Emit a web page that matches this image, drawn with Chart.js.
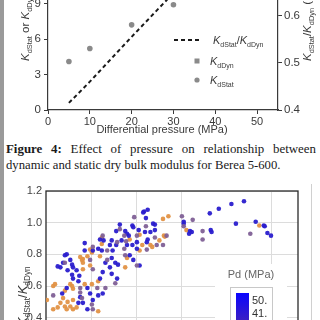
<!DOCTYPE html>
<html>
<head>
<meta charset="utf-8">
<script src="https://cdn.jsdelivr.net/npm/chart.js@4"></script>
<style>
  body { margin: 0; width: 320px; height: 320px; overflow: hidden; position: relative; background: #fff; }
  canvas { position: absolute; left: 0; }
  .cap { position: absolute; left: 6px; width: 310px; font-family: "Liberation Serif", "Times New Roman", serif; font-size: 12.7px; color: #1a1a1a; white-space: nowrap; }
</style>
</head>
<body>
<canvas id="topChart" width="320" height="160" style="top:-20px"></canvas>
<div class="cap" style="top:142px; font-size:12.9px; text-align:justify; text-align-last:justify; white-space:normal;"><b>Figure 4:</b> Effect of pressure on relationship between</div>
<div class="cap" style="top:158px;">dynamic and static dry bulk modulus for Berea 5-600.</div>
<canvas id="bottomChart" width="320" height="180" style="top:180px"></canvas>
<div style="position:absolute; left:0; top:0; width:4px; height:320px; background:#9a9a9a;"></div>
<div style="position:absolute; left:311px; top:184px; width:1px; height:136px; background:#d0d0d0;"></div>
<script>
// ---- top chart data (Berea 5-600) ----
const pressure = [5, 10, 20, 30];
const kdStat = [4.1, 5.2, 7.2, 8.9];
const kdDyn = [9.9, 11.3, 13.0, 13.7];
const kRatio = [0.415, 0.46, 0.555, 0.648];
const pressureTicks = [0, 10, 20, 30, 40, 50];
const modulusTicks = [0, 3, 6, 9];
const ratioTicksTop = [0.4, 0.5, 0.6];

// ---- bottom chart data, grouped by Pd ----
const ratioTicks = [0.2, 0.4, 0.6, 0.8, 1.0, 1.2];
const gridX = [0.05, 0.1, 0.15, 0.25];
const pdLabels = ['50.', '41.'];

const highPd = [
  [0.220,1.135],[0.206,1.118],[0.192,1.088],[0.182,1.059],[0.153,1.006],[0.153,0.994],[0.211,0.994],[0.233,1.006],
  [0.242,0.982],[0.243,0.977],[0.246,0.935],[0.250,0.918],[0.160,0.947],[0.162,0.941],[0.159,0.930],[0.183,0.953],
  [0.184,0.941],[0.113,1.082],[0.109,1.071],[0.111,1.029],[0.119,0.994],[0.121,0.988],[0.082,0.988],[0.096,0.982],
  [0.097,0.971],[0.103,0.953],[0.078,0.947],[0.088,0.947],[0.090,0.930],[0.092,0.918],[0.110,0.941],[0.116,0.941],
  [0.121,0.953],[0.113,0.894],[0.112,0.877],[0.084,0.888],[0.090,0.859],[0.096,0.859],[0.101,0.877],[0.073,0.888],
  [0.078,0.859],[0.060,0.894],[0.064,0.888],[0.071,0.859],[0.058,0.835],[0.062,0.824],[0.074,0.824],[0.043,0.871],
  [0.043,0.824],[0.052,0.824],[0.101,0.835],[0.108,1.065],[0.021,0.794],[0.027,0.765],[0.016,0.718],[0.029,0.735],
  [0.030,0.718],[0.024,0.700],[0.034,0.700],[0.029,0.671],[0.030,0.647],[0.037,0.665],[0.036,0.630],[0.023,0.588],
  [0.018,0.553],[0.046,0.588],[0.060,0.647],[0.063,0.688],[0.071,0.718],[0.077,0.747],[0.080,0.735],[0.073,0.777],
  [0.066,0.747],[0.073,0.677],[0.079,0.647],[0.093,0.794],[0.097,0.765],[0.104,0.730],[0.063,0.553],[0.058,0.541],
  [0.049,0.553],[0.038,0.530],[0.041,0.494],[0.036,0.494],[0.046,0.453],[0.052,0.512],[0.019,0.747],[0.013,0.724],
  [0.023,0.800]
];
const midPd = [
  [0.151,1.041],[0.163,1.018],[0.153,0.977],[0.227,0.930],[0.174,0.947],[0.174,0.894],[0.130,0.859],[0.098,1.035],
  [0.111,0.977],[0.082,0.959],[0.087,0.918],[0.101,0.918],[0.121,0.906],[0.089,0.882],[0.123,0.859],[0.079,0.877],
  [0.087,0.835],[0.063,0.918],[0.052,0.847],[0.068,0.824],[0.112,0.830],[0.134,0.918],[0.021,0.747],[0.049,0.765],
  [0.052,0.706],[0.038,0.588],[0.057,0.588],[0.068,0.765],[0.077,0.618],[0.088,0.794],[0.101,0.730],[0.066,0.588],
  [0.040,0.524],[0.051,0.483],[0.008,0.541],[0.052,0.453],[0.038,0.559]
];
const lowPd = [
  [0.136,1.041],[0.237,0.982],[0.156,0.953],[0.131,0.918],[0.132,0.912],[0.104,0.924],[0.126,0.888],[0.116,0.859],
  [0.107,0.859],[0.093,0.894],[0.062,0.906],[0.062,0.865],[0.051,0.812],[0.104,0.824],[0.118,0.847],[0.130,1.024],
  [0.040,0.765],[0.041,0.747],[0.046,0.788],[0.049,0.730],[0.041,0.706],[0.027,0.612],[0.029,0.600],[0.030,0.583],
  [0.010,0.612],[0.021,0.571],[0.043,0.612],[0.051,0.612],[0.058,0.630],[0.060,0.788],[0.090,0.777],[0.088,0.718],
  [0.030,0.512],[0.019,0.524],[0.024,0.500],[0.016,0.494],[0.021,0.471],[0.027,0.471],[0.013,0.465],[0.023,0.453],
  [0.030,0.453],[0.034,0.465],[0.001,0.512],[0.058,0.441],[0.008,0.600],[0.038,0.783],[0.041,0.771],[0.049,0.830],
  [0.008,0.453]
];

const SANS = '"Liberation Sans", Arial, sans-serif';
const AXIS = '#3a3a3a';

// draws text with subscripts, optionally rotated
function richText(ctx, x, y, parts, size, rot) {
  ctx.save();
  ctx.translate(x, y);
  if (rot) ctx.rotate(rot);
  ctx.textAlign = 'left';
  ctx.textBaseline = 'alphabetic';
  let cx = 0;
  parts.forEach(p => {
    const s = Math.round((p.sub ? size * 0.64 : size) * 10) / 10;
    ctx.font = (p.it ? 'italic ' : '') + s + 'px ' + SANS;
    ctx.fillText(p.t, cx, p.sub ? size * 0.25 : 0);
    cx += ctx.measureText(p.t).width;
  });
  ctx.restore();
}

const kStat = [{t: 'K', it: true}, {t: 'dStat', sub: true}];
const kDyn = [{t: 'K', it: true}, {t: 'dDyn', sub: true}];
const kRatioText = [...kStat, {t: '/'}, ...kDyn];

const pts = (xs, ys) => xs.map((x, i) => ({x: x, y: ys[i]}));
const pairs = arr => arr.map(p => ({x: p[0], y: p[1]}));

// ---- top chart ----
const topDecor = {
  id: 'topDecor',
  afterDraw(chart) {
    const ctx = chart.ctx;
    const off = 20; // canvas sits 20px above the page
    ctx.save();
    ctx.fillStyle = AXIS;
    richText(ctx, 29, 61 + off, [...kStat, {t: ' or '}, ...kDyn, {t: ' (GPa)'}], 11.5, -Math.PI / 2);
    richText(ctx, 311, 61 + off, [...kRatioText, {t: ' (Fraction)'}], 11.5, -Math.PI / 2);
    ctx.font = '11px ' + SANS;
    ctx.textAlign = 'center';
    ctx.textBaseline = 'middle';
    ctx.fillText('Differential pressure (MPa)', 162, 130 + off);

    // legend
    ctx.strokeStyle = '#1a1a1a';
    ctx.lineWidth = 2;
    ctx.setLineDash([4, 3]);
    ctx.beginPath();
    ctx.moveTo(174, 40 + off);
    ctx.lineTo(201, 40 + off);
    ctx.stroke();
    ctx.setLineDash([]);
    richText(ctx, 213, 44 + off, kRatioText, 11);
    ctx.fillStyle = '#8a8a8a';
    ctx.fillRect(194.5, 58.5 + off, 5, 5);
    ctx.beginPath();
    ctx.arc(197, 80 + off, 2.6, 0, Math.PI * 2);
    ctx.fill();
    ctx.fillStyle = AXIS;
    richText(ctx, 210, 65 + off, kDyn, 11);
    richText(ctx, 210, 84 + off, kStat, 11);
    ctx.restore();
  }
};

new Chart(document.getElementById('topChart'), {
  type: 'scatter',
  data: {
    datasets: [
      {
        label: 'KdStat/KdDyn',
        data: pts(pressure, kRatio),
        yAxisID: 'y2',
        showLine: true,
        borderColor: '#1a1a1a',
        borderWidth: 2,
        borderDash: [4, 3],
        pointRadius: 0
      },
      {
        label: 'KdDyn',
        data: pts(pressure, kdDyn),
        pointStyle: 'rect',
        pointRadius: 3,
        backgroundColor: '#8a8a8a',
        borderWidth: 0
      },
      {
        label: 'KdStat',
        data: pts(pressure, kdStat),
        pointRadius: 2.8,
        backgroundColor: '#8a8a8a',
        borderWidth: 0
      }
    ]
  },
  options: {
    responsive: false,
    animation: false,
    devicePixelRatio: 1,
    layout: { padding: { top: 20, left: 0, right: 0, bottom: 0 } },
    plugins: { legend: { display: false }, tooltip: { enabled: false } },
    scales: {
      x: {
        type: 'linear',
        min: 0, max: 55,
        afterBuildTicks: s => { s.ticks = pressureTicks.map(v => ({value: v})); },
        afterFit: s => { s.height = 30; },
        grid: { drawOnChartArea: false, tickLength: 4, color: AXIS },
        border: { color: AXIS, width: 1.2 },
        ticks: { padding: 1, color: AXIS, font: { family: SANS, size: 11 } }
      },
      y: {
        min: 0, max: 9.3,
        afterBuildTicks: s => { s.ticks = modulusTicks.map(v => ({value: v})); },
        afterFit: s => { s.width = 48; },
        grid: { drawOnChartArea: false, tickLength: 4, color: AXIS },
        border: { color: AXIS, width: 1.2 },
        ticks: { padding: 3, color: AXIS, font: { family: SANS, size: 11.5 } }
      },
      y2: {
        position: 'right',
        min: 0.4, max: 0.633,
        afterBuildTicks: s => { s.ticks = ratioTicksTop.map(v => ({value: v})); },
        afterFit: s => { s.width = 42; },
        grid: { drawOnChartArea: false, tickLength: 4, color: AXIS },
        border: { color: AXIS, width: 1.2 },
        ticks: { padding: 2, color: AXIS, font: { family: SANS, size: 11.5 }, callback: v => v.toFixed(1) }
      }
    }
  },
  plugins: [topDecor]
});

// ---- bottom chart ----
const bottomDecor = {
  id: 'bottomDecor',
  beforeDatasetsDraw(chart) {
    const a = chart.chartArea;
    const ctx = chart.ctx;
    ctx.save();
    ctx.strokeStyle = '#2a2a2a';
    ctx.lineWidth = 1.3;
    ctx.strokeRect(a.left, a.top, a.right - a.left, a.bottom - a.top + 20);
    ctx.restore();
  },
  afterDatasetsDraw(chart) {
    const ctx = chart.ctx;
    ctx.save();
    // Pd legend panel
    ctx.fillStyle = '#fff';
    ctx.fillRect(215, 84, 72, 100);
    ctx.fillStyle = '#666';
    ctx.font = '11px ' + SANS;
    ctx.textAlign = 'center';
    ctx.textBaseline = 'middle';
    ctx.fillText('Pd (MPa)', 251, 95);
    ctx.strokeStyle = '#c8c8c8';
    ctx.lineWidth = 1;
    ctx.strokeRect(230.5, 107.5, 42, 80);
    const g = ctx.createLinearGradient(0, 113, 0, 140);
    g.addColorStop(0, '#0a05ff');
    g.addColorStop(1, '#3a1fc4');
    ctx.fillStyle = g;
    ctx.fillRect(236, 113, 13, 70);
    ctx.fillStyle = '#333';
    ctx.textAlign = 'left';
    pdLabels.forEach((t, i) => ctx.fillText(t, 252, 121 + i * 13));
    // y title
    ctx.fillStyle = AXIS;
    richText(ctx, 27, 146, kRatioText, 13, -Math.PI / 2);
    ctx.restore();
  }
};

const dot = (data, color) => ({
  data: pairs(data),
  backgroundColor: color,
  borderWidth: 0,
  pointRadius: 2.3
});

new Chart(document.getElementById('bottomChart'), {
  type: 'scatter',
  data: {
    datasets: [
      dot(midPd, 'rgba(128,96,150,0.95)'),
      dot(highPd, 'rgba(42,30,206,0.95)'),
      dot(lowPd, 'rgba(226,146,70,0.95)')
    ]
  },
  options: {
    responsive: false,
    animation: false,
    devicePixelRatio: 1,
    layout: { padding: { top: 11, left: 0, right: 22, bottom: 0 } },
    plugins: { legend: { display: false }, tooltip: { enabled: false } },
    scales: {
      x: {
        type: 'linear',
        min: 0, max: 0.28,
        afterBuildTicks: s => { s.ticks = gridX.map(v => ({value: v})); },
        afterFit: s => { s.height = 0; },
        grid: { color: '#dcdcdc', tickLength: 0 },
        border: { display: false },
        ticks: { display: false }
      },
      y: {
        min: 0.2, max: 1.2,
        afterBuildTicks: s => { s.ticks = ratioTicks.map(v => ({value: v})); },
        afterFit: s => { s.width = 46; },
        grid: { color: '#dcdcdc', tickLength: 0 },
        border: { display: false },
        ticks: { padding: 4, color: '#444', font: { family: SANS, size: 11 }, callback: v => v.toFixed(1) }
      }
    }
  },
  plugins: [bottomDecor]
});
</script>
</body>
</html>
